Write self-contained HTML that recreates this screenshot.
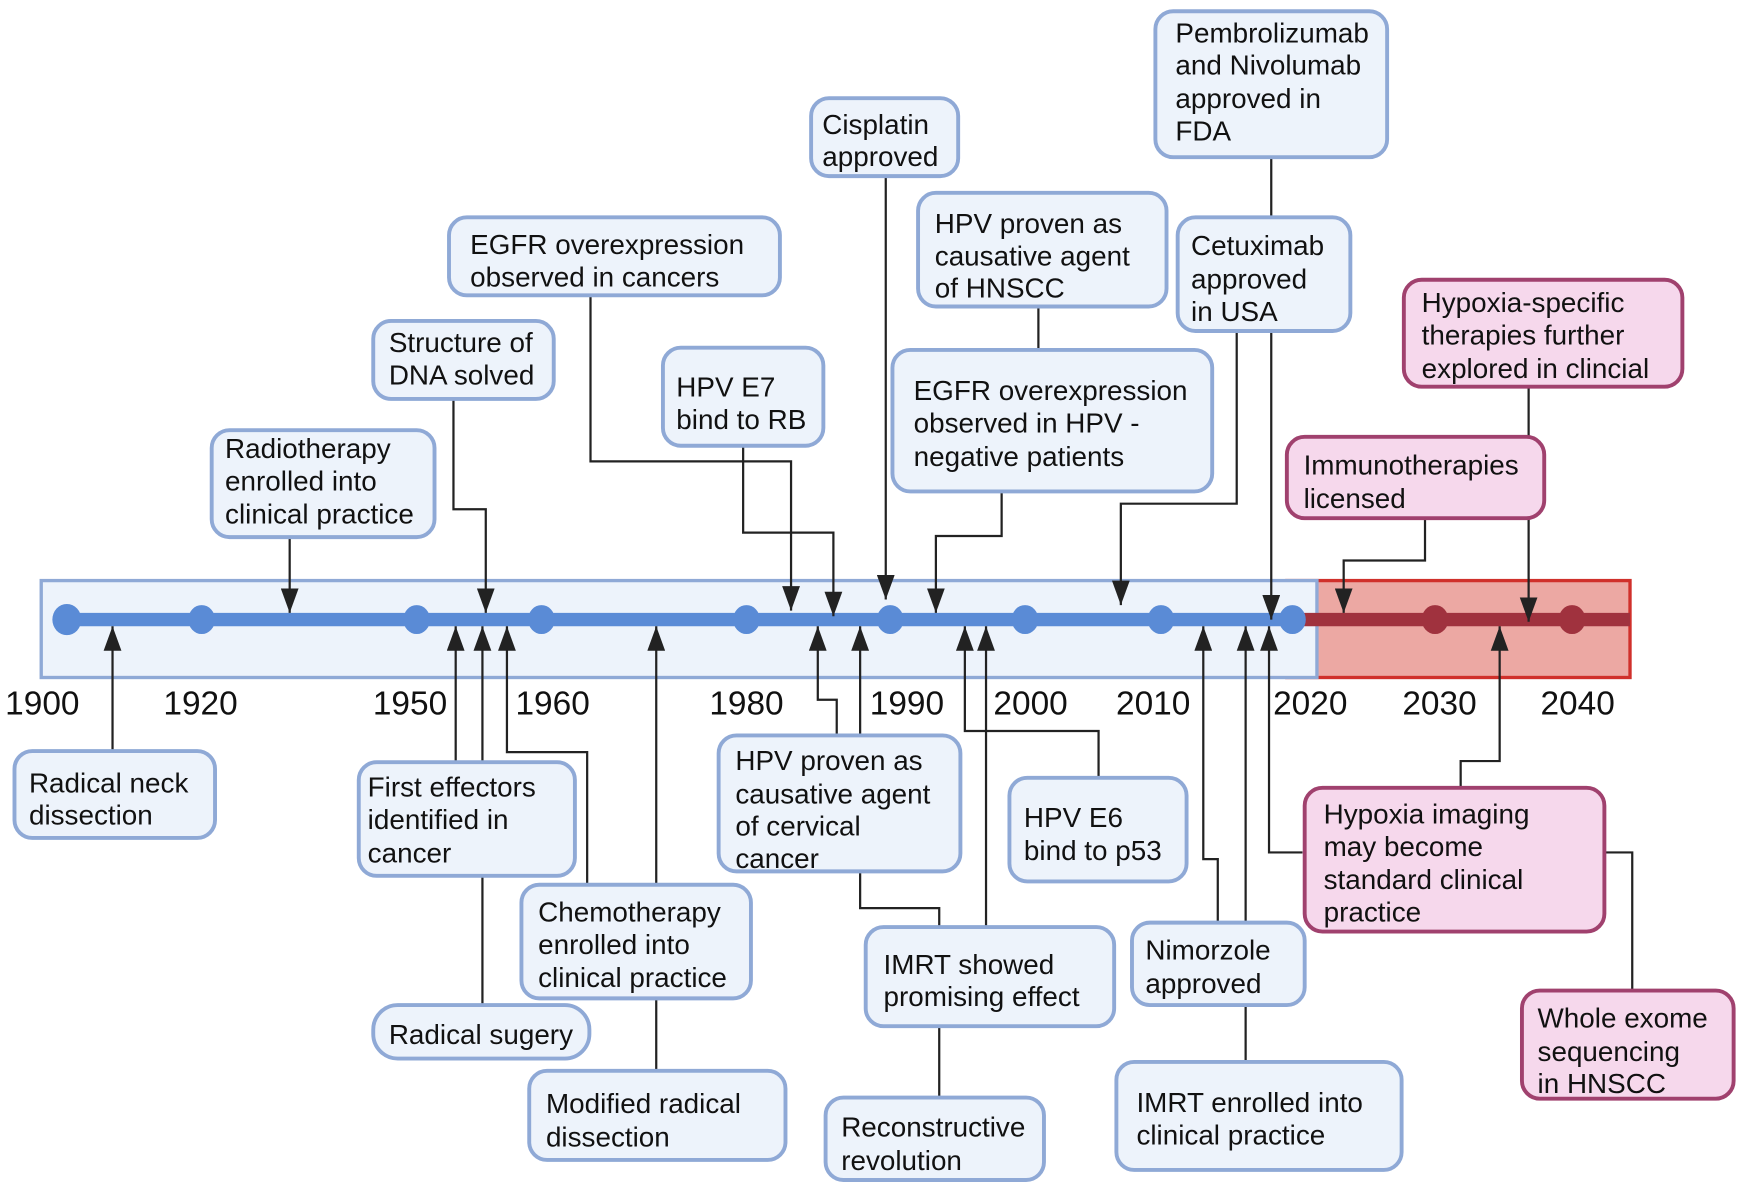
<!DOCTYPE html>
<html><head><meta charset="utf-8"><style>
html,body{margin:0;padding:0;background:#fff;}
svg{display:block}
text{font-family:"Liberation Sans",sans-serif;font-size:25px;fill:#111;}
.b{fill:#edf3fb;stroke:#8fa9d6;stroke-width:3.5}
.p{fill:#f6d8ec;stroke:#a0416e;stroke-width:3.5}
.l{fill:none;stroke:#222;stroke-width:2}
.yr{font-size:30px;text-anchor:middle}
</style></head><body>
<svg width="1747" height="1189" viewBox="0 0 1568 1067" xmlns="http://www.w3.org/2000/svg">
<defs>
<marker id="a" viewBox="0 0 22 16" refX="22" refY="8" markerWidth="22" markerHeight="16" markerUnits="userSpaceOnUse" orient="auto"><path d="M0,0 L22,8 L0,16 Z" fill="#222"/></marker>
</defs>
<rect x="1155" y="521" width="308" height="87" fill="#eca8a3" stroke="#d0302b" stroke-width="3"/>
<rect x="37" y="521" width="1145" height="87" fill="#edf3fb" stroke="#8fa9d6" stroke-width="3"/>
<line x1="60" y1="556" x2="1160" y2="556" stroke="#5a8bd6" stroke-width="12"/>
<line x1="1160" y1="556" x2="1463" y2="556" stroke="#a0323e" stroke-width="12"/>
<g fill="#5a8bd6">
<ellipse cx="60" cy="556" rx="13" ry="14"/><ellipse cx="181" cy="556" rx="12" ry="13"/><ellipse cx="374" cy="556" rx="12" ry="13"/><ellipse cx="486" cy="556" rx="12" ry="13"/><ellipse cx="670" cy="556" rx="12" ry="13"/><ellipse cx="799" cy="556" rx="12" ry="13"/><ellipse cx="920" cy="556" rx="12" ry="13"/><ellipse cx="1042" cy="556" rx="12" ry="13"/><ellipse cx="1160" cy="556" rx="12" ry="13"/></g>
<g fill="#a0323e"><ellipse cx="1288" cy="556" rx="12" ry="13"/><ellipse cx="1411" cy="556" rx="12" ry="13"/></g>
<text class="yr" x="38" y="641">1900</text><text class="yr" x="180" y="641">1920</text><text class="yr" x="368" y="641">1950</text><text class="yr" x="496" y="641">1960</text><text class="yr" x="670" y="641">1980</text><text class="yr" x="814" y="641">1990</text><text class="yr" x="925" y="641">2000</text><text class="yr" x="1035" y="641">2010</text><text class="yr" x="1176" y="641">2020</text><text class="yr" x="1292" y="641">2030</text><text class="yr" x="1416" y="641">2040</text>

<g class="l">
<polyline points="260,482 260,550" marker-end="url(#a)"/>
<polyline points="407,358 407,457 436,457 436,550" marker-end="url(#a)"/>
<polyline points="530,265 530,414 710,414 710,548" marker-end="url(#a)"/>
<polyline points="667,400 667,478 748,478 748,553" marker-end="url(#a)"/>
<polyline points="795,158 795,538" marker-end="url(#a)"/>
<polyline points="932,275 932,314"/>
<polyline points="899,441 899,481 840,481 840,550" marker-end="url(#a)"/>
<polyline points="1110,297 1110,452 1006,452 1006,543" marker-end="url(#a)"/>
<polyline points="1141,141 1141,195"/>
<polyline points="1141,297 1141,556" marker-end="url(#a)"/>
<polyline points="1279,465 1279,503 1206,503 1206,550" marker-end="url(#a)"/>
<polyline points="1372,347 1372,558" marker-end="url(#a)"/>

<polyline points="101,674 101,562" marker-end="url(#a)"/>
<polyline points="409,684 409,562" marker-end="url(#a)"/>
<polyline points="433,902 433,562" marker-end="url(#a)"/>
<polyline points="527,794 527,675 455,675 455,562" marker-end="url(#a)"/>
<polyline points="589,961 589,562" marker-end="url(#a)"/>
<polyline points="751,660 751,628 734,628 734,562" marker-end="url(#a)"/>
<polyline points="772,660 772,562" marker-end="url(#a)"/>
<polyline points="772,782 772,815 843,815 843,832"/>
<polyline points="885,832 885,562" marker-end="url(#a)"/>
<polyline points="986,698 986,656 866,656 866,562" marker-end="url(#a)"/>
<polyline points="843,921 843,985"/>
<polyline points="1093,828 1093,771 1080,771 1080,562" marker-end="url(#a)"/>
<polyline points="1118,953 1118,562" marker-end="url(#a)"/>
<polyline points="1169,765 1139,765 1139,562" marker-end="url(#a)"/>
<polyline points="1440,765 1465,765 1465,889"/>
<polyline points="1311,707 1311,683 1346,683 1346,562" marker-end="url(#a)"/>
</g>

<g>
<rect class="b" x="13" y="674" width="180" height="78" rx="16"/>
<text x="26" y="711">Radical neck</text><text x="26" y="740">dissection</text>
<rect class="b" x="190" y="386" width="200" height="96" rx="16"/>
<text x="202" y="411">Radiotherapy</text><text x="202" y="440">enrolled into</text><text x="202" y="470">clinical practice</text>
<rect class="b" x="335" y="288" width="162" height="70" rx="16"/>
<text x="349" y="316">Structure of</text><text x="349" y="345">DNA solved</text>
<rect class="b" x="403" y="195" width="297" height="70" rx="16"/>
<text x="422" y="228">EGFR overexpression</text><text x="422" y="257">observed in cancers</text>
<rect class="b" x="595" y="312" width="144" height="88" rx="16"/>
<text x="607" y="356">HPV E7</text><text x="607" y="385">bind to RB</text>
<rect class="b" x="728" y="88" width="132" height="70" rx="16"/>
<text x="738" y="120">Cisplatin</text><text x="738" y="149">approved</text>
<rect class="b" x="824" y="173" width="223" height="102" rx="16"/>
<text x="839" y="209">HPV proven as</text><text x="839" y="238">causative agent</text><text x="839" y="267">of HNSCC</text>
<rect class="b" x="801" y="314" width="287" height="127" rx="16"/>
<text x="820" y="359">EGFR overexpression</text><text x="820" y="388">observed in HPV -</text><text x="820" y="418">negative patients</text>
<rect class="b" x="1037" y="10" width="208" height="131" rx="16"/>
<text x="1055" y="38">Pembrolizumab</text><text x="1055" y="67">and Nivolumab</text><text x="1055" y="97">approved in</text><text x="1055" y="126">FDA</text>
<rect class="b" x="1057" y="195" width="155" height="102" rx="16"/>
<text x="1069" y="229">Cetuximab</text><text x="1069" y="259">approved</text><text x="1069" y="288">in USA</text>
<rect class="p" x="1260" y="251" width="250" height="96" rx="16"/>
<text x="1276" y="280">Hypoxia-specific</text><text x="1276" y="309">therapies further</text><text x="1276" y="339">explored in clincial</text>
<rect class="p" x="1155" y="392" width="231" height="73" rx="16"/>
<text x="1170" y="426">Immunotherapies</text><text x="1170" y="456">licensed</text>
<rect class="b" x="322" y="684" width="194" height="102" rx="16"/>
<text x="330" y="715">First effectors</text><text x="330" y="744">identified in</text><text x="330" y="774">cancer</text>
<rect class="b" x="468" y="794" width="206" height="102" rx="16"/>
<text x="483" y="827">Chemotherapy</text><text x="483" y="856">enrolled into</text><text x="483" y="886">clinical practice</text>
<rect class="b" x="335" y="902" width="194" height="48" rx="22"/>
<text x="349" y="937">Radical sugery</text>
<rect class="b" x="475" y="961" width="230" height="80" rx="16"/>
<text x="490" y="999">Modified radical</text><text x="490" y="1029">dissection</text>
<rect class="b" x="645" y="660" width="217" height="122" rx="16"/>
<text x="660" y="691">HPV proven as</text><text x="660" y="721">causative agent</text><text x="660" y="750">of cervical</text><text x="660" y="779">cancer</text>
<rect class="b" x="906" y="698" width="159" height="93" rx="16"/>
<text x="919" y="742">HPV E6</text><text x="919" y="772">bind to p53</text>
<rect class="b" x="777" y="832" width="223" height="89" rx="16"/>
<text x="793" y="874">IMRT showed</text><text x="793" y="903">promising effect</text>
<rect class="b" x="741" y="985" width="196" height="74" rx="16"/>
<text x="755" y="1020">Reconstructive</text><text x="755" y="1050">revolution</text>
<rect class="b" x="1016" y="828" width="155" height="74" rx="16"/>
<text x="1028" y="861">Nimorzole</text><text x="1028" y="891">approved</text>
<rect class="b" x="1002" y="953" width="256" height="97" rx="16"/>
<text x="1020" y="998">IMRT enrolled into</text><text x="1020" y="1027">clinical practice</text>
<rect class="p" x="1171" y="707" width="269" height="129" rx="16"/>
<text x="1188" y="739">Hypoxia imaging</text><text x="1188" y="768">may become</text><text x="1188" y="798">standard clinical</text><text x="1188" y="827">practice</text>
<rect class="p" x="1366" y="889" width="190" height="97" rx="16"/>
<text x="1380" y="922">Whole  exome</text><text x="1380" y="952">sequencing</text><text x="1380" y="981">in HNSCC</text>
</g>
</svg>
</body></html>
